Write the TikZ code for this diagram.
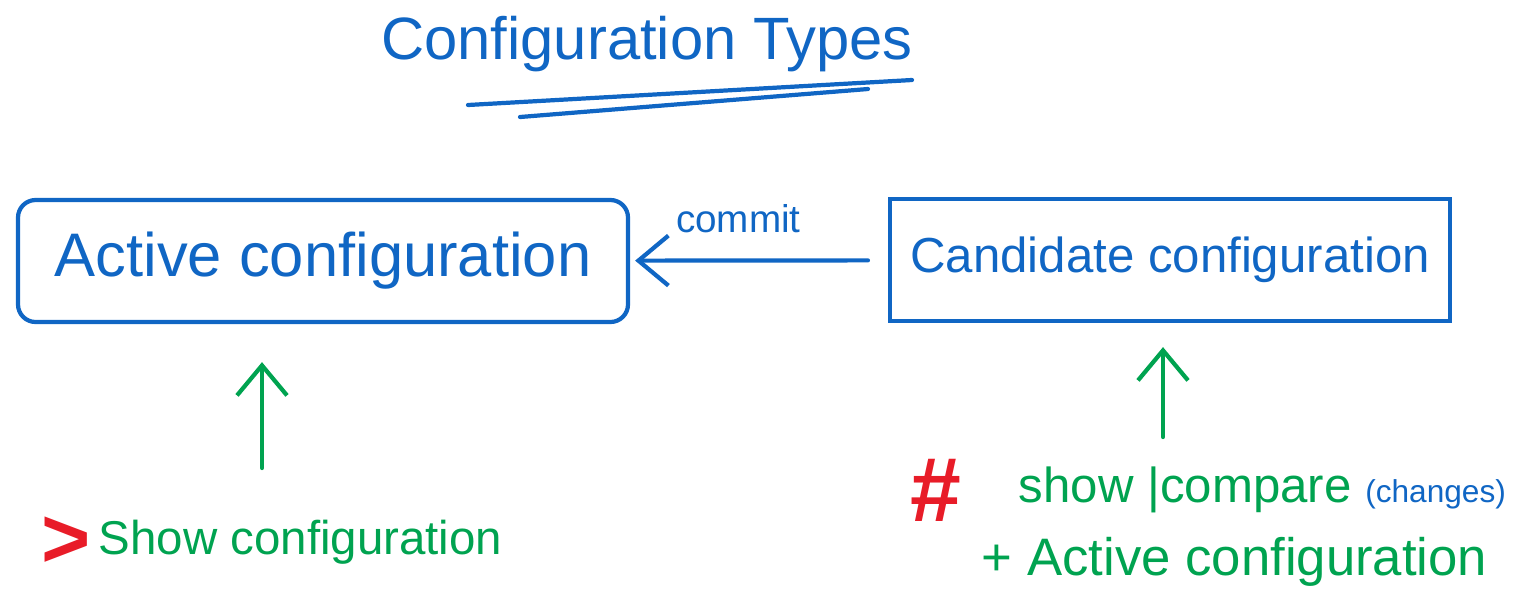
\documentclass[tikz,border=0pt]{standalone}
\usepackage{fontspec}
\setmainfont{Liberation Sans}
\usetikzlibrary{arrows.meta, positioning}
\definecolor{penblue}{RGB}{16,102,196}
\definecolor{pengreen}{RGB}{0,163,80}
\definecolor{penred}{RGB}{232,28,40}

\begin{document}
\begin{tikzpicture}[line width=1.2pt, line cap=round]
    \useasboundingbox (0,0) rectangle (15.36,-5.91);
    % Add the title
        \node[text=penblue,
              font=\fontsize{17}{20}\selectfont] (title) at (6.47,-0.44) {Configuration Types};
        \draw[penblue] (4.68,-1.05) -- (9.12,-0.80);
        \draw[penblue] (5.20,-1.17) -- (8.68,-0.89);

    % Add the boxes
        \node[draw=penblue,
              rounded corners=5pt,
              minimum width=6.1cm,
              minimum height=1.22cm,
              text=penblue,
              font=\fontsize{17.5}{21}\selectfont] (active) at (3.23,-2.61) {Active configuration};
        \node[draw=penblue,
              minimum width=5.6cm,
              minimum height=1.22cm,
              text=penblue,
              font=\fontsize{14}{17}\selectfont] (candidate) at (11.70,-2.60) {Candidate configuration};

    % Add the notes
        \node[anchor=west,
              text=pengreen,
              font=\fontsize{13.5}{16}\selectfont] (showcfg) at (0.85,-5.42) {Show configuration};
        \node[left=-0.2cm of showcfg,
              text=penred,
              font=\bfseries\fontsize{24}{26}\selectfont] (mark) {>};
        \node[anchor=west,
              text=pengreen,
              font=\fontsize{14}{17}\selectfont] (showcmp) at (10.05,-4.90) {show |compare {\color{penblue}\fontsize{9}{11}\selectfont(changes)}};
        \node[left=0.3cm of showcmp,
              text=penred,
              font=\bfseries\fontsize{26}{28}\selectfont] (hash) {\#};
        \node[anchor=west,
              text=pengreen,
              font=\fontsize{15}{18}\selectfont] (activecmp) at (9.68,-5.62) {+ Active configuration};
        \coordinate (upA) at (2.62,-4.68);
        \coordinate (upC) at (11.63,-4.37);

       \draw[>={Straight Barb[length=3mm, width=5mm]}]
            (candidate) edge[penblue, ->, shorten <=0.2cm, shorten >=0.05cm]
                node[pos=0.58, above=4pt, font=\fontsize{11}{13}\selectfont, text=penblue] (commit) {commit} (active)
            (upA) edge[pengreen, ->, shorten >=0.38cm] (upA |- active.south)
            (upC) edge[pengreen, ->, shorten >=0.24cm] (upC |- candidate.south)
            ;
\end{tikzpicture}
\end{document}
